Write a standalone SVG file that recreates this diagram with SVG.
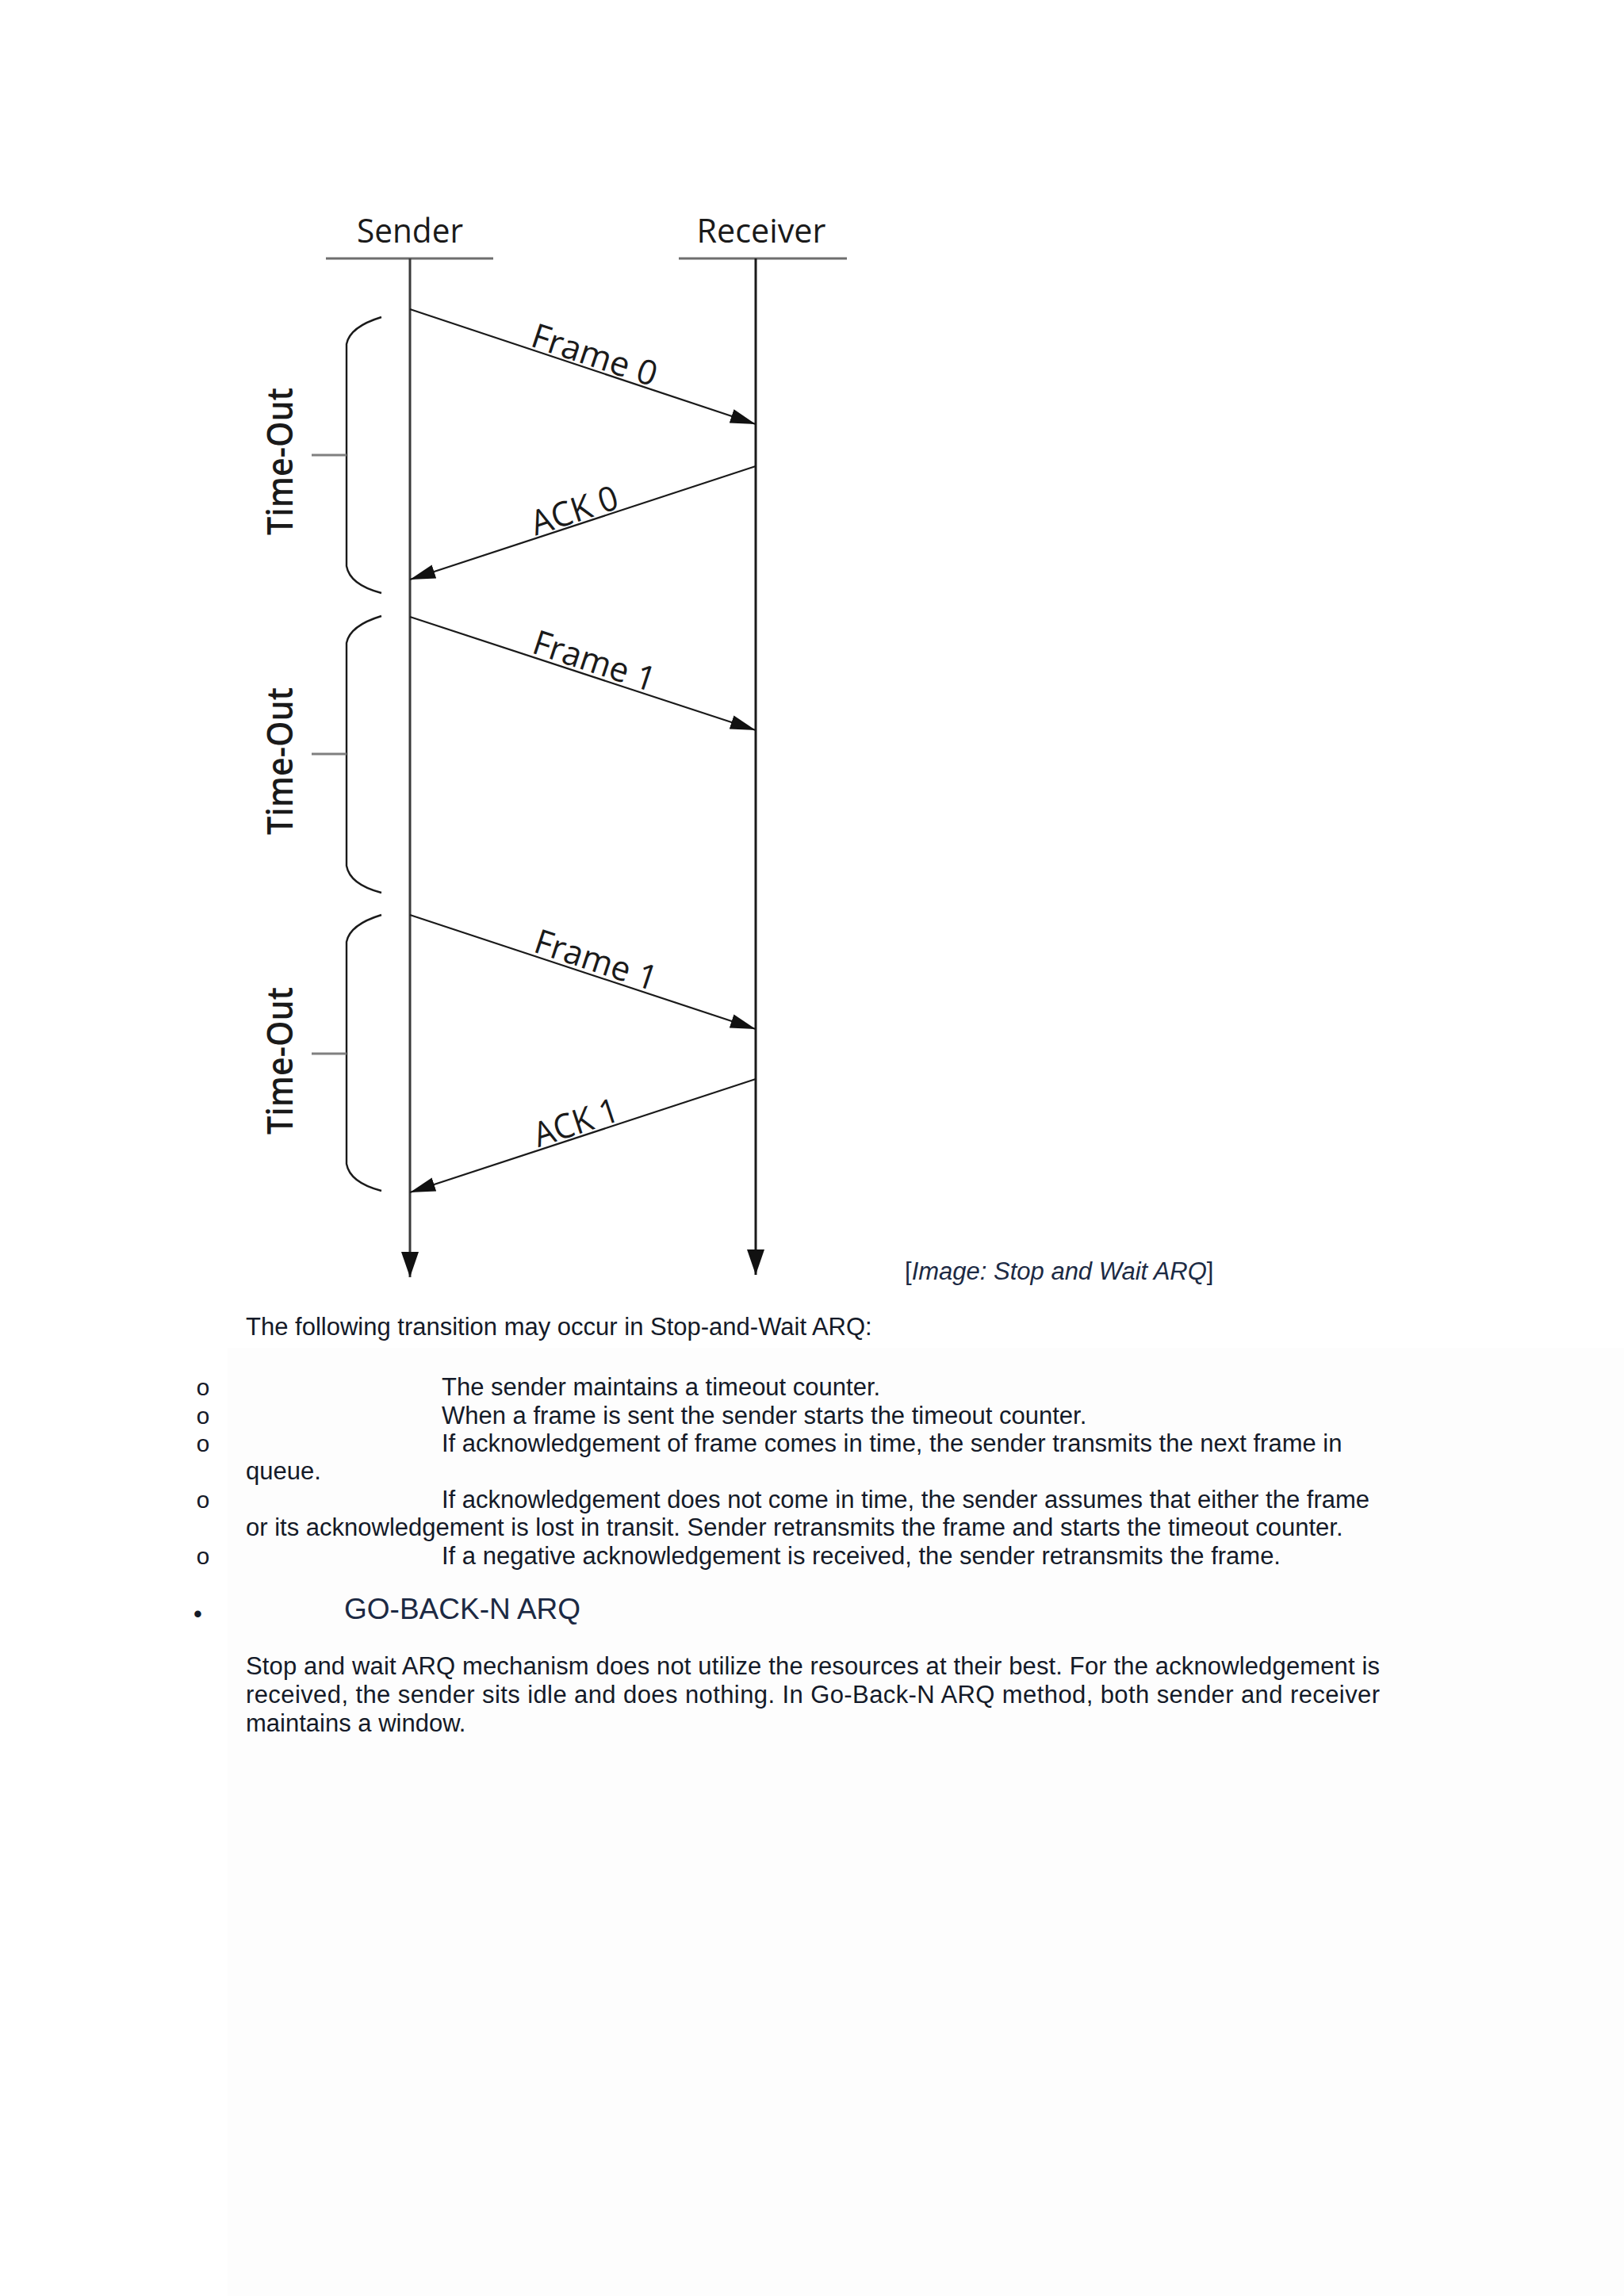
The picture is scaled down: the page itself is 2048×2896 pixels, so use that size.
<svg xmlns="http://www.w3.org/2000/svg" width="2048" height="2896" viewBox="0 0 2048 2896">
<defs>
<style>
.hdr{font-family:"Open Sans","Noto Sans",sans-serif;font-size:42px;fill:#1a1a1a}
.lbl{font-family:"Open Sans","Noto Sans",sans-serif;font-size:43px;fill:#1a1a1a;text-anchor:middle}
.to{font-family:"Open Sans","Noto Sans",sans-serif;font-weight:600;font-size:45px;fill:#1a1a1a;text-anchor:middle}
.body{font-family:"Liberation Sans",Arial,sans-serif;font-size:31px;fill:#141a28}
.navy{font-family:"Liberation Sans",Arial,sans-serif;fill:#1c2a44}
.bul{font-family:"Liberation Mono","Courier New",monospace;font-size:30px;fill:#141a28}
.msg{stroke:#1a1a1a;stroke-width:2.2;fill:none;marker-end:url(#ah)}
.life{stroke-width:3;fill:none}
.head{stroke:#6e6e6e;stroke-width:3}
.brace{stroke:#1a1a1a;stroke-width:2.4;fill:none}
.tick{stroke:#808080;stroke-width:3}
</style>
<marker id="ah" viewBox="0 0 32 20" markerWidth="32" markerHeight="20" refX="32" refY="10" orient="auto" markerUnits="userSpaceOnUse">
<path d="M0,1 L32,10 L0,19 z" fill="#111"/>
</marker>
<marker id="ahd" viewBox="0 0 22 32" markerWidth="22" markerHeight="32" refX="11" refY="32" orient="0" markerUnits="userSpaceOnUse">
<path d="M0,0 L22,0 L11,32 z" fill="#111"/>
</marker>
</defs>
<rect width="2048" height="2896" fill="#ffffff"/>
<rect x="287" y="1700" width="1761" height="1196" fill="#fdfdfd"/>

<g id="sender">
<text class="hdr" x="517" y="306" text-anchor="middle" textLength="134" lengthAdjust="spacingAndGlyphs">Sender</text>
<line class="head" x1="411" y1="326" x2="622" y2="326"/>
</g>
<g id="receiver">
<text class="hdr" x="960" y="306" text-anchor="middle" textLength="163" lengthAdjust="spacingAndGlyphs">Receiver</text>
<line class="head" x1="856" y1="326" x2="1068" y2="326"/>
</g>

<g id="timeout1">
<path class="brace" d="M481,400 C458,407 440,418 437,434 L437,714 C440,731 458,742 481,748"/>
<line class="tick" x1="393" y1="574" x2="437" y2="574"/>
<text class="to" x="369" y="582" transform="rotate(-90 369 582)" textLength="186" lengthAdjust="spacingAndGlyphs">Time-Out</text>
</g>
<g id="timeout2">
<path class="brace" d="M481,777 C458,784 440,795 437,811 L437,1092 C440,1109 458,1120 481,1126"/>
<line class="tick" x1="393" y1="951" x2="437" y2="951"/>
<text class="to" x="369" y="960" transform="rotate(-90 369 960)" textLength="186" lengthAdjust="spacingAndGlyphs">Time-Out</text>
</g>
<g id="timeout3">
<path class="brace" d="M481,1154 C458,1161 440,1172 437,1188 L437,1468 C440,1485 458,1496 481,1502"/>
<line class="tick" x1="393" y1="1329" x2="437" y2="1329"/>
<text class="to" x="369" y="1338" transform="rotate(-90 369 1338)" textLength="186" lengthAdjust="spacingAndGlyphs">Time-Out</text>
</g>

<g id="connectors">
<line class="life" x1="517" y1="326" x2="517" y2="1611" stroke="#3a3a3a" marker-end="url(#ahd)"/>
<line class="life" x1="953" y1="326" x2="953" y2="1608" stroke="#1a1a1a" stroke-width="2.5" marker-end="url(#ahd)"/>
<line class="msg" x1="517" y1="390" x2="953" y2="535"/>
<line class="msg" x1="953" y1="588" x2="517" y2="731"/>
<line class="msg" x1="517" y1="778" x2="953" y2="921"/>
<line class="msg" x1="517" y1="1154" x2="953" y2="1298"/>
<line class="msg" x1="953" y1="1361" x2="517" y2="1504"/>
<text class="lbl" x="745" y="462" transform="rotate(18.4 745 462)" textLength="164" lengthAdjust="spacingAndGlyphs">Frame 0</text>
<text class="lbl" x="729" y="658" transform="rotate(-18.2 729 658)" textLength="113" lengthAdjust="spacingAndGlyphs">ACK 0</text>
<text class="lbl" x="745" y="848" transform="rotate(18.2 745 848)" textLength="160" lengthAdjust="spacingAndGlyphs">Frame 1</text>
<text class="lbl" x="747" y="1225" transform="rotate(18.3 747 1225)" textLength="160" lengthAdjust="spacingAndGlyphs">Frame 1</text>
<text class="lbl" x="731" y="1430" transform="rotate(-18.2 731 1430)" textLength="110" lengthAdjust="spacingAndGlyphs">ACK 1</text>
</g>

<g id="text">
<text class="navy" x="1141" y="1614" font-size="31"><tspan>[</tspan><tspan font-style="italic">Image: Stop and Wait ARQ</tspan><tspan>]</tspan></text>
<text class="body" x="310" y="1684">The following transition may occur in Stop-and-Wait ARQ:</text>
<text class="bul" x="247" y="1760">o</text>
<text class="body" x="557" y="1760">The sender maintains a timeout counter.</text>
<text class="bul" x="247" y="1796">o</text>
<text class="body" x="557" y="1796">When a frame is sent the sender starts the timeout counter.</text>
<text class="bul" x="247" y="1831">o</text>
<text class="body" x="557" y="1831">If acknowledgement of frame comes in time, the sender transmits the next frame in</text>
<text class="body" x="310" y="1866">queue.</text>
<text class="bul" x="247" y="1902">o</text>
<text class="body" x="557" y="1902">If acknowledgement does not come in time, the sender assumes that either the frame</text>
<text class="body" x="310" y="1937">or its acknowledgement is lost in transit. Sender retransmits the frame and starts the timeout counter.</text>
<text class="bul" x="247" y="1973">o</text>
<text class="body" x="557" y="1973">If a negative acknowledgement is received, the sender retransmits the frame.</text>
<text class="body" x="244" y="2046" font-size="50">•</text>
<text class="navy" x="434" y="2042" font-size="37">GO-BACK-N ARQ</text>
<text class="body" x="310" y="2112" textLength="1430" lengthAdjust="spacing">Stop and wait ARQ mechanism does not utilize the resources at their best. For the acknowledgement is</text>
<text class="body" x="310" y="2148" textLength="1430" lengthAdjust="spacing">received, the sender sits idle and does nothing. In Go-Back-N ARQ method, both sender and receiver</text>
<text class="body" x="310" y="2184">maintains a window.</text>
</g>
</svg>
